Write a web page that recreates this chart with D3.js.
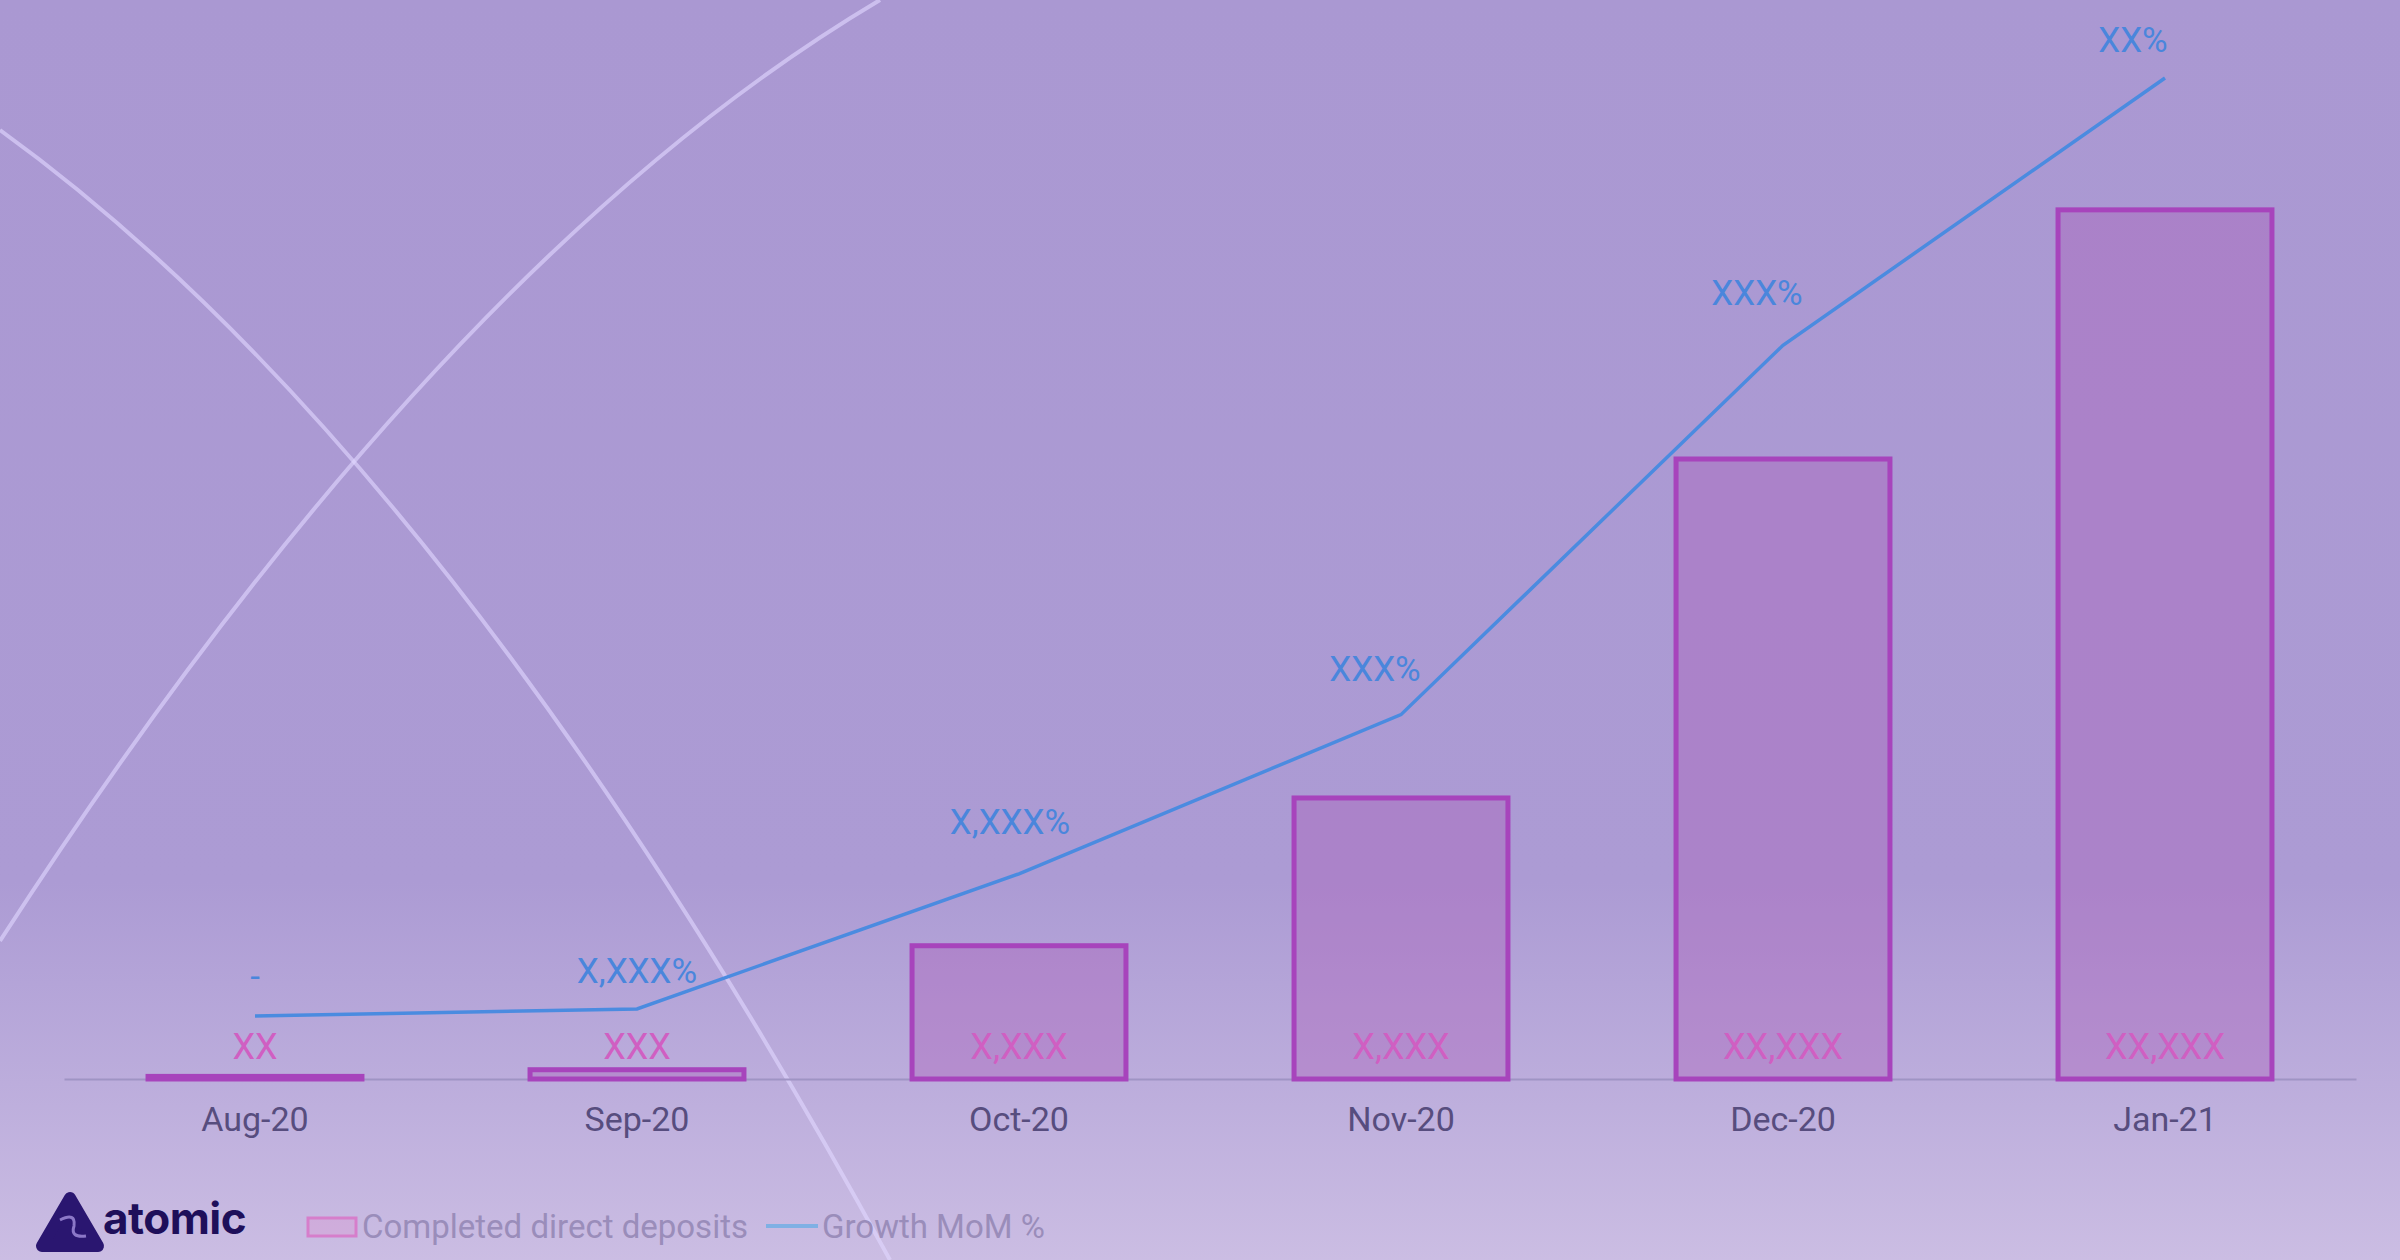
<!DOCTYPE html>
<html>
<head>
<meta charset="utf-8">
<script src="https://cdn.jsdelivr.net/npm/d3@7"></script>
<style>
  html, body { margin: 0; padding: 0; }
  body { width: 2400px; height: 1260px; overflow: hidden; font-family: Roboto, "Liberation Sans", Arial, sans-serif; }
</style>
</head>
<body>
<svg id="chart" width="2400" height="1260"></svg>
<script>
// ---- data ----
const categories = ["Aug-20", "Sep-20", "Oct-20", "Nov-20", "Dec-20", "Jan-21"];
const deposits = [90, 320, 4600, 9700, 21400, 30000];
const depositLabels = ["XX", "XXX", "X,XXX", "X,XXX", "XX,XXX", "XX,XXX"];
const growth = [6.3, 7.0, 20.5, 36.4, 73.3, 100];
const growthLabels = ["-", "X,XXX%", "X,XXX%", "XXX%", "XXX%", "XX%"];
const legendItems = ["Completed direct deposits", "Growth MoM %"];

// ---- layout ----
const W = 2400, H = 1260;
const margin = { left: 64, right: 44, top: 65, bottom: 181 };
const baseY = H - margin.bottom; // 1079

const svg = d3.select("#chart");
const defs = svg.append("defs");

const bg = defs.append("linearGradient").attr("id", "bg").attr("x1", 0).attr("y1", 0).attr("x2", 0).attr("y2", 1);
bg.append("stop").attr("offset", "0%").attr("stop-color", "#aa98d2");
bg.append("stop").attr("offset", "70%").attr("stop-color", "#ac9bd4");
bg.append("stop").attr("offset", "86%").attr("stop-color", "#bcaddc");
bg.append("stop").attr("offset", "100%").attr("stop-color", "#cbbde3");
svg.append("rect").attr("width", W).attr("height", H).attr("fill", "url(#bg)");

// decorative arcs
const deco = svg.append("g").attr("fill", "none").attr("stroke", "rgba(224,214,255,0.62)").attr("stroke-width", 4);
const p1 = d3.path(); p1.moveTo(0, 130); p1.quadraticCurveTo(450, 455, 890, 1260);
const p2 = d3.path(); p2.moveTo(0, 941); p2.quadraticCurveTo(440, 261, 880, 0);
deco.append("path").attr("d", p1.toString());
deco.append("path").attr("d", p2.toString());

// ---- scales ----
const x = d3.scaleBand().domain(categories).range([margin.left, W - margin.right]).paddingInner(0.44).paddingOuter(0.22);
const y = d3.scaleLinear().domain([0, 35000]).range([baseY, margin.top]);
const y2 = d3.scaleLinear().domain([0, 100]).range([baseY, 78]);
const cx = d => x(d) + x.bandwidth() / 2;

// axis
const xAxis = d3.axisBottom(x).tickSize(0).tickPadding(28);
const gx = svg.append("g").attr("transform", `translate(0,${baseY})`).call(xAxis);
gx.select(".domain").attr("stroke", "#9f94c4").attr("stroke-width", 2);
gx.selectAll("text").attr("font-size", 34).attr("fill", "#574d7e").attr("font-family", "Roboto, sans-serif");

// bars
svg.append("g").selectAll("rect").data(categories).join("rect")
  .attr("x", d => x(d))
  .attr("width", x.bandwidth())
  .attr("y", (d, i) => y(deposits[i]))
  .attr("height", (d, i) => baseY - y(deposits[i]))
  .attr("fill", "rgba(172,92,185,0.38)")
  .attr("stroke", "#a744bc")
  .attr("stroke-width", 5);

// bar labels
svg.append("g").selectAll("text").data(categories).join("text")
  .attr("x", d => cx(d))
  .attr("y", baseY - 20)
  .attr("text-anchor", "middle")
  .attr("font-size", 36)
  .attr("fill", "#d05fc2")
  .text((d, i) => depositLabels[i]);

// line
const line = d3.line().x((d, i) => cx(categories[i])).y(d => y2(d));
svg.append("path").datum(growth)
  .attr("d", line)
  .attr("fill", "none")
  .attr("stroke", "#4b8be0")
  .attr("stroke-width", 3.5);

// line labels (placement offsets, as the source chart nudges them)
const lblDx = [0, 0, -9, -26, -26, -32];
const lblDy = [-28, -26, -40, -34, -40, -26];
svg.append("g").selectAll("text").data(categories).join("text")
  .attr("x", (d, i) => cx(d) + lblDx[i])
  .attr("y", (d, i) => y2(growth[i]) + lblDy[i])
  .attr("text-anchor", "middle")
  .attr("font-size", 35)
  .attr("fill", "#4a86dc")
  .text((d, i) => growthLabels[i]);

// ---- logo ----
const logo = svg.append("g").attr("transform", "translate(40,1196)");
const tri = d3.path();
tri.moveTo(30, 2); tri.lineTo(58, 50); tri.lineTo(2, 50); tri.closePath();
logo.append("path").attr("d", tri.toString()).attr("fill", "#2a1670").attr("stroke", "#2a1670")
  .attr("stroke-width", 12).attr("stroke-linejoin", "round");
logo.append("path").attr("d", "M20,24 Q36,16 34,30 Q30,42 46,40").attr("fill", "none")
  .attr("stroke", "#8c78c8").attr("stroke-width", 3);
svg.append("text").attr("x", 103).attr("y", 1234)
  .attr("font-size", 44).attr("font-weight", 700).attr("fill", "#1e0f5a")
  .attr("font-family", "Inter, Roboto, sans-serif").attr("letter-spacing", -0.5)
  .text("atomic");

// ---- legend ----
const leg = svg.append("g");
leg.append("rect").attr("x", 308).attr("y", 1218).attr("width", 48).attr("height", 18)
  .attr("fill", "rgba(220,150,210,0.35)").attr("stroke", "#d67ecb").attr("stroke-width", 3);
leg.append("text").attr("x", 362).attr("y", 1238).attr("font-size", 33).attr("fill", "#9a8dba")
  .text(legendItems[0]);
leg.append("line").attr("x1", 766).attr("x2", 818).attr("y1", 1226).attr("y2", 1226)
  .attr("stroke", "#7fb0e4").attr("stroke-width", 4);
leg.append("text").attr("x", 822).attr("y", 1238).attr("font-size", 33).attr("fill", "#9a8dba")
  .text(legendItems[1]);
</script>
</body>
</html>
